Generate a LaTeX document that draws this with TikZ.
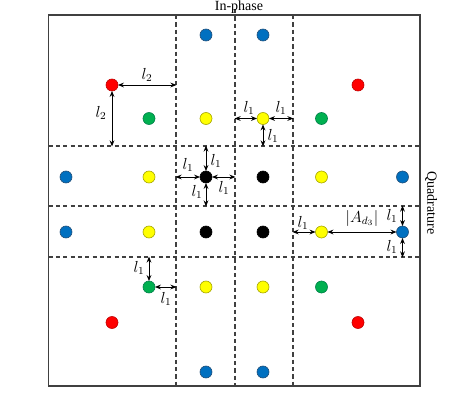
\documentclass[tikz,border=0pt]{standalone}
\usepackage{fontspec}
\setmainfont{Liberation Serif}
\usetikzlibrary{arrows.meta}
\definecolor{dBlue}{HTML}{0070C0}
\definecolor{dBlueE}{HTML}{1F4E79}
\definecolor{dRed}{HTML}{FF0000}
\definecolor{dRedE}{HTML}{C00000}
\definecolor{dGreen}{HTML}{00B050}
\definecolor{dGreenE}{HTML}{00804A}
\definecolor{dYellow}{HTML}{FFFF00}
\definecolor{dYellowE}{HTML}{A6A600}
\definecolor{lineGray}{HTML}{404040}
\begin{document}
\begin{tikzpicture}[x=0.75pt,y=-0.75pt,
  dot/.style={circle,inner sep=0pt,minimum size=9pt,line width=0.5pt},
  bdot/.style={dot,fill=dBlue,draw=dBlueE},
  rdot/.style={dot,fill=dRed,draw=dRedE},
  gdot/.style={dot,fill=dGreen,draw=dGreenE},
  ydot/.style={dot,fill=dYellow,draw=dYellowE},
  kdot/.style={dot,fill=black,draw=black},
  gridline/.style={draw=lineGray,line width=1pt,dash pattern=on 3.2pt off 2.3pt},
  framebox/.style={draw=lineGray,line width=1.1pt},
  dim/.style={{Stealth[length=4.5pt,width=3.6pt]}-{Stealth[length=4.5pt,width=3.6pt]},line width=0.75pt,shorten <=-0.3pt,shorten >=-0.3pt},
  lab/.style={font=\fontsize{12}{14}\selectfont,inner sep=0pt},
  axislab/.style={font=\fontsize{10.5}{12}\selectfont,inner sep=0pt}]
\useasboundingbox (0,0) rectangle (474,414);
% frame
\draw[framebox] (48.5,15) rectangle (420,386);
% dashed grid
\draw[gridline] (176,15) -- (176,386);
\draw[gridline] (235,9) -- (235,386);
\draw[gridline] (293,15) -- (293,386);
\draw[gridline] (48.5,146) -- (420,146);
\draw[gridline] (48.5,206) -- (420,206);
\draw[gridline] (48.5,257) -- (420,257);
% axis labels
\node[axislab] (inphase) at (239,7) {In-phase};
\node[axislab,rotate=-90] (quad) at (431,203) {Quadrature};
% dots
\node[bdot] (b1) at (206,35) {};
\node[bdot] (b2) at (263,35) {};
\node[rdot] (r1) at (112,85) {};
\node[rdot] (r2) at (358,85) {};
\node[gdot] (g1) at (149,118.5) {};
\node[ydot] (y1) at (206,118.5) {};
\node[ydot] (y2) at (263,118.5) {};
\node[gdot] (g2) at (321.5,118.5) {};
\node[bdot] (b3) at (66,177) {};
\node[ydot] (y3) at (149,177) {};
\node[kdot] (k1) at (206,177) {};
\node[kdot] (k2) at (263,177) {};
\node[ydot] (y4) at (321.5,177) {};
\node[bdot] (b4) at (402.5,177) {};
\node[bdot] (b5) at (66,232) {};
\node[ydot] (y5) at (149,232) {};
\node[kdot] (k3) at (206,232) {};
\node[kdot] (k4) at (263,232) {};
\node[ydot] (y6) at (321.5,232) {};
\node[bdot] (b6) at (402.5,232) {};
\node[gdot] (g3) at (149,287) {};
\node[ydot] (y7) at (206,287) {};
\node[ydot] (y8) at (263,287) {};
\node[gdot] (g4) at (321.5,287) {};
\node[rdot] (r3) at (112,322.5) {};
\node[rdot] (r4) at (358,322.5) {};
\node[bdot] (b7) at (206,372) {};
\node[bdot] (b8) at (263,372) {};
% end points on the dashed lines
\coordinate (e1) at (176,85);
\coordinate (e2) at (112,146);
\coordinate (e3) at (235,118.5);
\coordinate (e4) at (293,118.5);
\coordinate (e5) at (263,146);
\coordinate (e6) at (206,146);
\coordinate (e7) at (176,177);
\coordinate (e8) at (235,177);
\coordinate (e9) at (206,206);
\coordinate (e10) at (293,232);
\coordinate (e11) at (402.5,206);
\coordinate (e12) at (402.5,257);
\coordinate (e13) at (149,257);
\coordinate (e14) at (176,287);
% dimension arrows
\draw[dim] (r1) -- (e1);
\draw[dim] (r1) -- (e2);
\draw[dim] (e3) -- (y2);
\draw[dim] (y2) -- (e4);
\draw[dim] (y2) -- (e5);
\draw[dim] (k1) -- (e6);
\draw[dim] (e7) -- (k1);
\draw[dim] (k1) -- (e8);
\draw[dim] (k1) -- (e9);
\draw[dim] (e10) -- (y6);
\draw[dim] (y6) -- (b6);
\draw[dim] (b6) -- (e11);
\draw[dim] (b6) -- (e12);
\draw[dim] (g3) -- (e13);
\draw[dim] (g3) -- (e14);
% labels
\node[lab] (t1) at (147,75) {$l_2$};
\node[lab] (t2) at (101,113) {$l_2$};
\node[lab] (t3) at (249,108) {$l_1$};
\node[lab] (t4) at (281,108) {$l_1$};
\node[lab] (t5) at (273,136) {$l_1$};
\node[lab] (t6) at (188,165) {$l_1$};
\node[lab] (t7) at (216,161) {$l_1$};
\node[lab] (t8) at (197,192) {$l_1$};
\node[lab] (t9) at (224,188) {$l_1$};
\node[lab] (t10) at (303,223) {$l_1$};
\node[lab] (t11) at (362,218) {$\left|A_{d_3}\right|$};
\node[lab] (t12) at (392,216) {$l_1$};
\node[lab] (t13) at (392,247) {$l_1$};
\node[lab] (t14) at (139,268) {$l_1$};
\node[lab] (t15) at (166,299) {$l_1$};
\end{tikzpicture}
\end{document}
